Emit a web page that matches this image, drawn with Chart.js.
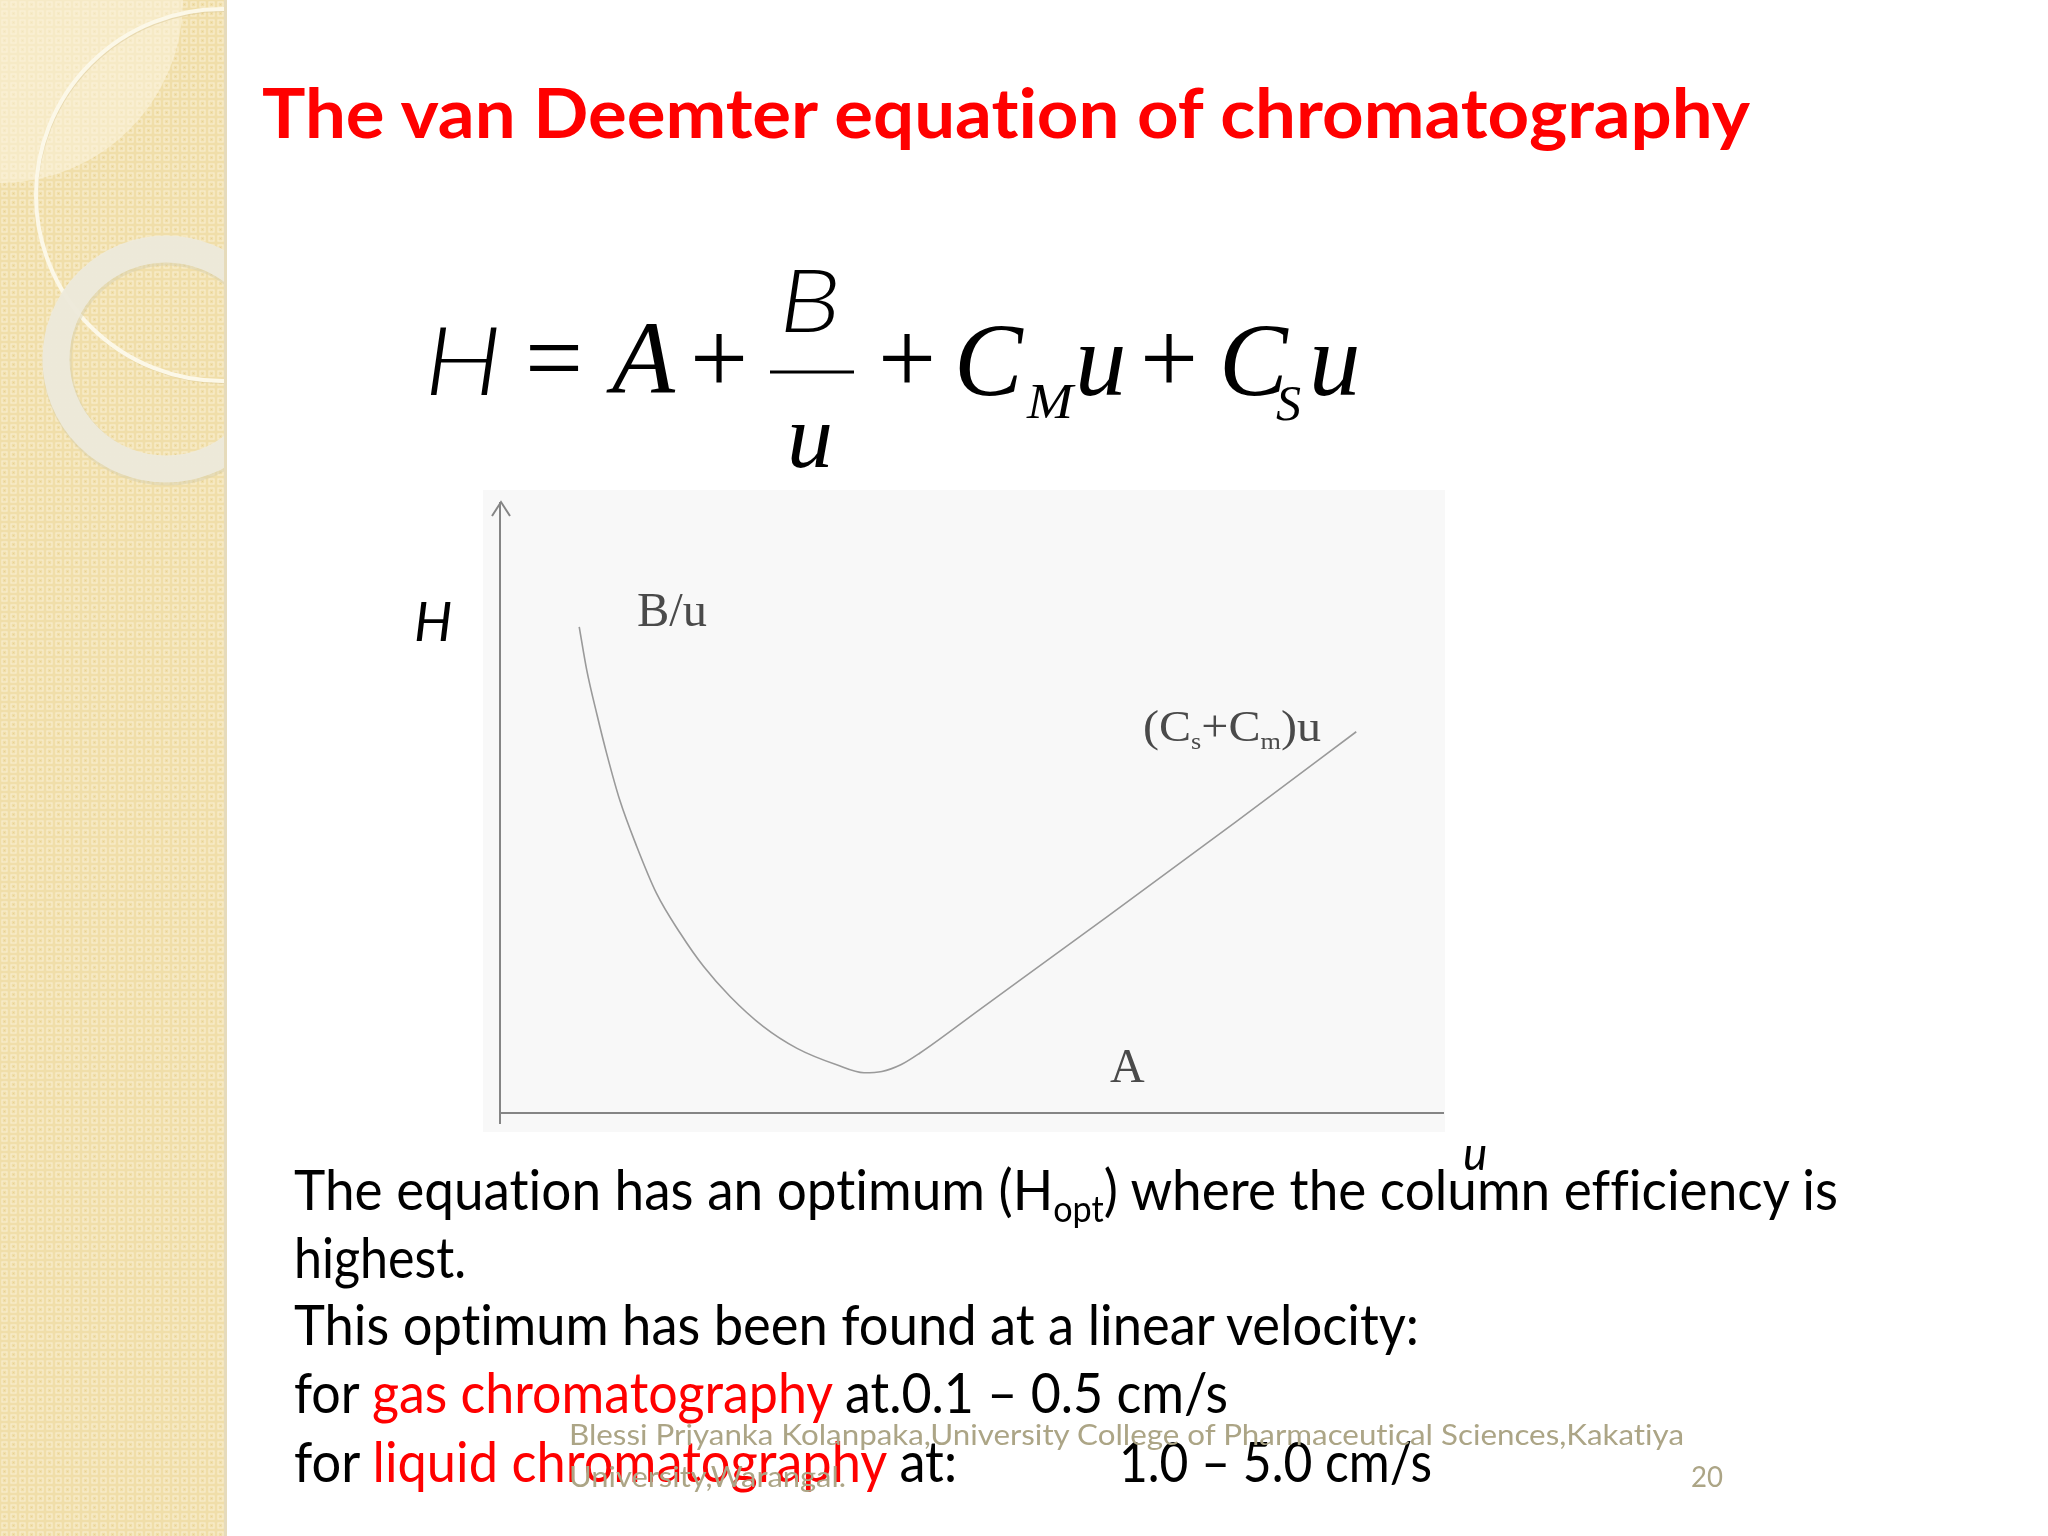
<!DOCTYPE html>
<html>
<head>
<meta charset="utf-8">
<title>The van Deemter equation of chromatography</title>
<script src="https://cdn.jsdelivr.net/npm/chart.js@4.4.0/dist/chart.umd.min.js"></script>
<style>
  html, body { margin:0; padding:0; background:#fff; }
  #slide { position:relative; width:2048px; height:1536px; overflow:hidden; background:#fff; }
  #strip { position:absolute; left:0; top:0; }
  #plotBox { position:absolute; left:483px; top:490px; width:962px; height:642px; background:#f8f8f8; }
  #vdChart { position:absolute; left:483px; top:490px; }
  #texts { position:absolute; left:0; top:0; pointer-events:none; }
  .sans { font-family:'Lato','Open Sans',sans-serif; font-variant-ligatures:none; }
  .serif { font-family:'Liberation Serif','DejaVu Serif',serif; }
  .thin { font-family:'Lato','Open Sans',sans-serif; font-weight:300; font-style:italic; }
  .italic { font-family:'Lato','Open Sans',sans-serif; font-style:italic; }
</style>
</head>
<body>
<div id="slide">
  <!-- decorative left band -->
  <svg id="strip" width="227" height="1536" xmlns="http://www.w3.org/2000/svg">
    <defs>
      <pattern id="dots" width="9" height="9" patternUnits="userSpaceOnUse">
        <rect width="9" height="9" fill="#f0dea9"/>
        <rect x="2" y="2" width="5" height="5" fill="none" stroke="#f8edcb" stroke-width="1.3"/>
        <rect x="4" y="4" width="1" height="1" fill="#e6d195"/>
      </pattern>
    </defs>
    <rect width="227" height="1536" fill="url(#dots)"/>
    <circle cx="0" cy="0" r="183" fill="#fbf4de" opacity="0.55"/>
    <circle cx="223" cy="197" r="186" fill="none" stroke="#d9c897" stroke-width="2" opacity="0.5"/>
    <circle cx="222" cy="195" r="186" fill="none" stroke="#fcf8e8" stroke-width="4"/>
    <circle cx="167" cy="361" r="110" fill="none" stroke="#d8cfae" stroke-width="29" opacity="0.5"/>
    <circle cx="166" cy="359" r="110" fill="none" stroke="#eeeadc" stroke-width="27" opacity="0.92"/>
    <rect x="224" y="0" width="3" height="1536" fill="#e6dbbb"/>
  </svg>

  <div id="plotBox"></div>
  <canvas id="vdChart" width="962" height="642"></canvas>

  <svg id="texts" width="2048" height="1536" xmlns="http://www.w3.org/2000/svg">
    <!-- title -->
    <text class="sans" x="262" y="138" font-size="68" font-weight="700" fill="#ff0000" textLength="1488" lengthAdjust="spacingAndGlyphs">The van Deemter equation of chromatography</text>

    <!-- equation H = A + B/u + C_M u + C_S u -->
    <g fill="#000">
      <text class="thin" x="424" y="395" font-size="95" textLength="78" lengthAdjust="spacingAndGlyphs">H</text>
      <text class="serif" x="525" y="393" font-size="103">=</text>
      <text class="serif" x="612" y="393" font-size="103" font-style="italic">A</text>
      <text class="serif" x="690" y="393" font-size="103">+</text>
      <text class="thin" x="779" y="332" font-size="87" textLength="62" lengthAdjust="spacingAndGlyphs">B</text>
      <line x1="770" y1="372" x2="854" y2="372" stroke="#000" stroke-width="3"/>
      <text class="serif" x="787" y="467" font-size="92" font-style="italic">u</text>
      <text class="serif" x="878" y="393" font-size="103">+</text>
      <text class="serif" x="954" y="395" font-size="103" font-style="italic">C</text>
      <text class="serif" x="1027" y="418" font-size="50" font-style="italic" textLength="46" lengthAdjust="spacingAndGlyphs">M</text>
      <text class="serif" x="1075" y="395" font-size="103" font-style="italic">u</text>
      <text class="serif" x="1140" y="393" font-size="103">+</text>
      <text class="serif" x="1219" y="395" font-size="103" font-style="italic">C</text>
      <text class="serif" x="1276" y="420" font-size="50" font-style="italic">S</text>
      <text class="serif" x="1309" y="395" font-size="103" font-style="italic">u</text>
    </g>

    <!-- axis names -->
    <text class="italic" x="414" y="641" font-size="54">H</text>
    <text class="italic" x="1463" y="1170" font-size="46">u</text>

    <!-- curve labels -->
    <g fill="#4a4a4a">
      <text class="serif" x="637" y="626" font-size="48" textLength="70" lengthAdjust="spacingAndGlyphs">B/u</text>
      <text class="serif" x="1143" y="741" font-size="44" textLength="178" lengthAdjust="spacingAndGlyphs">(C<tspan font-size="24" dy="8">s</tspan><tspan dy="-8">+C</tspan><tspan font-size="24" dy="8">m</tspan><tspan dy="-8">)u</tspan></text>
      <text class="serif" x="1110" y="1082" font-size="48">A</text>
    </g>

    <!-- body text -->
    <g class="sans" font-size="56" fill="#000">
      <text x="294" y="1210" textLength="1544" lengthAdjust="spacingAndGlyphs">The equation has an optimum (H<tspan font-size="36" dy="12">opt</tspan><tspan dy="-12">) where the column efficiency is</tspan></text>
      <text x="294" y="1278" textLength="172" lengthAdjust="spacingAndGlyphs">highest.</text>
      <text x="294" y="1345" textLength="1125" lengthAdjust="spacingAndGlyphs">This optimum has been found at a linear velocity:</text>
      <text x="294" y="1413" textLength="934" lengthAdjust="spacingAndGlyphs">for <tspan fill="#ff0000">gas chromatography</tspan> at.0.1 – 0.5 cm/s</text>
      <text x="294" y="1482" textLength="663" lengthAdjust="spacingAndGlyphs">for <tspan fill="#ff0000">liquid chromatography</tspan> at:</text>
      <text x="1119" y="1482" textLength="313" lengthAdjust="spacingAndGlyphs">1.0 – 5.0 cm/s</text>
    </g>

    <!-- footer -->
    <g class="sans" font-size="29" fill="#aca586">
      <text x="569" y="1445" textLength="1115" lengthAdjust="spacingAndGlyphs">Blessi Priyanka Kolanpaka,University College of Pharmaceutical Sciences,Kakatiya</text>
      <text x="569" y="1487" textLength="277" lengthAdjust="spacingAndGlyphs">University,Warangal.</text>
      <text x="1691" y="1487" textLength="32" lengthAdjust="spacingAndGlyphs">20</text>
    </g>
  </svg>
</div>

<script>
  // plate height H against linear velocity u
  var U_VALUES = [0.84, 0.92, 1.03, 1.13, 1.27, 1.45, 1.66, 1.91, 2.16, 2.44, 2.79, 3.15, 3.57, 3.86, 4.05, 4.25, 4.45, 5.09, 6.44, 7.80, 9.08];
  var H_VALUES = [7.97, 7.26, 6.52, 5.90, 5.13, 4.37, 3.60, 2.95, 2.40, 1.91, 1.42, 1.06, 0.79, 0.66, 0.68, 0.79, 0.98, 1.70, 3.22, 4.77, 6.25];
  var U_RANGE = [0, 10];
  var H_RANGE = [0, 10];

  var AXIS_COLOR = '#858585';

  /* arrow head on top of the H axis, plus the little overshoot below the u axis */
  var axisArrow = {
    id: 'axisArrow',
    afterDraw: function(chart) {
      var ctx = chart.ctx, y = chart.scales.y;
      var x = y.right + 1, top = y.top;
      ctx.save();
      ctx.strokeStyle = AXIS_COLOR;
      ctx.lineWidth = 2;
      ctx.beginPath();
      ctx.moveTo(x - 9, top + 13);
      ctx.lineTo(x, top - 1);
      ctx.lineTo(x + 9, top + 13);
      ctx.stroke();
      ctx.beginPath();
      ctx.moveTo(x - 1, y.bottom);
      ctx.lineTo(x - 1, y.bottom + 11);
      ctx.stroke();
      ctx.restore();
    }
  };

  function initChart() {
    if (typeof Chart === 'undefined') { setTimeout(initChart, 100); return; }
    var el = document.getElementById('vdChart');
    new Chart(el, {
      type: 'scatter',
      data: {
        datasets: [{
          label: 'H',
          data: U_VALUES.map(function(u, i) { return {x: u, y: H_VALUES[i]}; }),
          showLine: true,
          borderColor: '#9a9a9a',
          borderWidth: 1.6,
          pointRadius: 0,
          fill: false,
          cubicInterpolationMode: 'monotone'
        }]
      },
      options: {
        responsive: false,
        animation: false,
        devicePixelRatio: 1,
        layout: { padding: { left: 17, top: 13, right: 2, bottom: 19 } },
        plugins: { legend: { display: false }, tooltip: { enabled: false } },
        scales: {
          x: {
            type: 'linear', min: U_RANGE[0], max: U_RANGE[1],
            grid: { display: false },
            ticks: { display: false },
            border: { display: true, color: AXIS_COLOR, width: 2 },
            afterFit: function(s) { s.height = 0; }
          },
          y: {
            type: 'linear', min: H_RANGE[0], max: H_RANGE[1],
            grid: { display: false },
            ticks: { display: false },
            border: { display: true, color: AXIS_COLOR, width: 2 },
            afterFit: function(s) { s.width = 0; }
          }
        }
      },
      plugins: [axisArrow]
    });
  }

  if (document.readyState === 'loading') {
    document.addEventListener('DOMContentLoaded', initChart);
  } else {
    initChart();
  }
</script>
</body>
</html>
